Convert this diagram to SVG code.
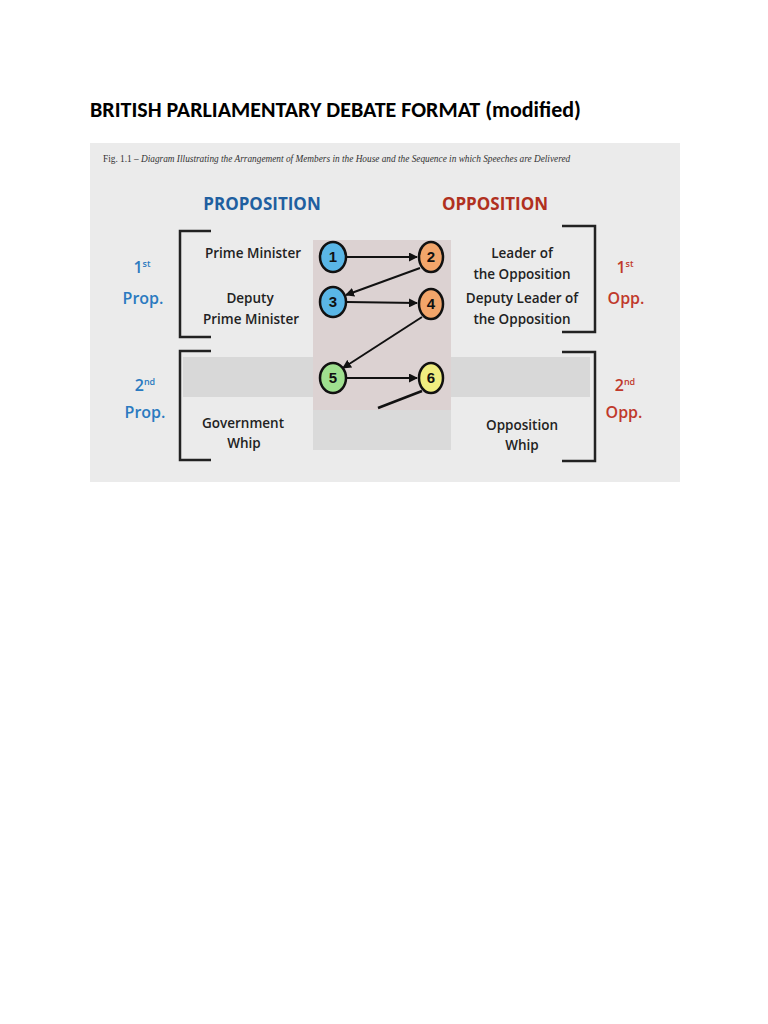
<svg xmlns="http://www.w3.org/2000/svg" width="768" height="1024" viewBox="0 0 768 1024">
<style>
.t{font-family:"Open Sans","Liberation Sans",sans-serif;font-size:13.5px;fill:#222;text-anchor:middle;font-weight:600}
.b{font-family:"Open Sans","Liberation Sans",sans-serif;font-size:16px;font-weight:600;text-anchor:middle}
.n{font-family:"Liberation Sans",sans-serif;font-size:15px;font-weight:bold;text-anchor:middle;fill:#111}
.br{fill:none;stroke:#222;stroke-width:2.5}
.c{stroke:#111;stroke-width:2.5}
.a{stroke:#111;stroke-width:2;marker-end:url(#ah)}
</style>
<defs><marker id="ah" markerWidth="9" markerHeight="9" refX="8" refY="4.5" orient="auto" markerUnits="userSpaceOnUse"><path d="M0,0L9,4.5L0,9z" fill="#111"/></marker></defs>
<rect width="768" height="1024" fill="#fff"/>
<text x="90" y="117" font-family="Calibri,Carlito,'Liberation Sans',sans-serif" font-size="22" font-weight="bold" fill="#000">BRITISH PARLIAMENTARY DEBATE FORMAT (modified)</text>
<rect x="90" y="143" width="590" height="339" fill="#ebebeb"/>
<text x="103" y="162" font-family="'Liberation Serif',serif" font-size="9.3" fill="#333">Fig. 1.1 – <tspan font-style="italic">Diagram Illustrating the Arrangement of Members in the House and the Sequence in which Speeches are Delivered</tspan></text>
<rect x="183" y="357" width="407" height="40" fill="#d8d8d8"/>
<rect x="313" y="240" width="138" height="170" fill="#dcd2d2"/>
<rect x="313" y="410" width="138" height="40" fill="#dadada"/>
<text x="262" y="210" font-family="'Open Sans','Liberation Sans',sans-serif" font-size="17" font-weight="bold" fill="#1f5fa0" text-anchor="middle">PROPOSITION</text>
<text x="495" y="210" font-family="'Open Sans','Liberation Sans',sans-serif" font-size="17" font-weight="bold" fill="#b03020" text-anchor="middle">OPPOSITION</text>
<g id="brackets">
<path class="br" d="M211,231H180V337H211"/>
<path class="br" d="M211,351H180V460H211"/>
<path class="br" d="M562,226H595V332H562"/>
<path class="br" d="M562,352H595V461H562"/>
</g>
<g id="labels-left">
<text class="b" x="142" y="273" fill="#2a7ac0">1<tspan font-size="9" dy="-6">st</tspan></text>
<text class="b" x="143" y="304" fill="#2a7ac0">Prop.</text>
<text class="b" x="145" y="391" fill="#2a7ac0">2<tspan font-size="9" dy="-6">nd</tspan></text>
<text class="b" x="145" y="418" fill="#2a7ac0">Prop.</text>
</g>
<g id="labels-right">
<text class="b" x="625" y="273" fill="#c0392b">1<tspan font-size="9" dy="-6">st</tspan></text>
<text class="b" x="626" y="304" fill="#c0392b">Opp.</text>
<text class="b" x="625" y="391" fill="#c0392b">2<tspan font-size="9" dy="-6">nd</tspan></text>
<text class="b" x="624" y="418" fill="#c0392b">Opp.</text>
</g>
<g id="roles">
<text class="t" x="253" y="258">Prime Minister</text>
<text class="t" x="250" y="303">Deputy</text>
<text class="t" x="251" y="324">Prime Minister</text>
<text class="t" x="243" y="428">Government</text>
<text class="t" x="244" y="448">Whip</text>
<text class="t" x="522" y="258">Leader of</text>
<text class="t" x="522" y="279">the Opposition</text>
<text class="t" x="522" y="303">Deputy Leader of</text>
<text class="t" x="522" y="324">the Opposition</text>
<text class="t" x="522" y="430">Opposition</text>
<text class="t" x="522" y="450">Whip</text>
</g>
<g id="connectors">
<line class="a" x1="347" y1="257" x2="417" y2="257"/>
<line class="a" x1="420" y1="268" x2="346" y2="295"/>
<line class="a" x1="347" y1="302" x2="417" y2="303"/>
<line class="a" x1="422" y1="317" x2="343" y2="368"/>
<line class="a" x1="347" y1="378" x2="417" y2="378"/>
<line class="c" x1="422" y1="391" x2="378" y2="408"/>
</g>
<g id="n1"><ellipse class="c" cx="333" cy="257" rx="13" ry="15" fill="#5ab6e6"/><text class="n" x="333" y="262">1</text></g>
<g id="n2"><ellipse class="c" cx="431" cy="257" rx="12" ry="15" fill="#f2a56a"/><text class="n" x="431" y="262">2</text></g>
<g id="n3"><ellipse class="c" cx="333" cy="302" rx="13" ry="15" fill="#5ab6e6"/><text class="n" x="333" y="307">3</text></g>
<g id="n4"><ellipse class="c" cx="431" cy="304" rx="12" ry="15" fill="#f2a56a"/><text class="n" x="431" y="309">4</text></g>
<g id="n5"><ellipse class="c" cx="333" cy="378" rx="13" ry="15" fill="#9fe08f"/><text class="n" x="333" y="383">5</text></g>
<g id="n6"><ellipse class="c" cx="431" cy="378" rx="12" ry="15" fill="#f0ee80"/><text class="n" x="431" y="383">6</text></g>
</svg>
